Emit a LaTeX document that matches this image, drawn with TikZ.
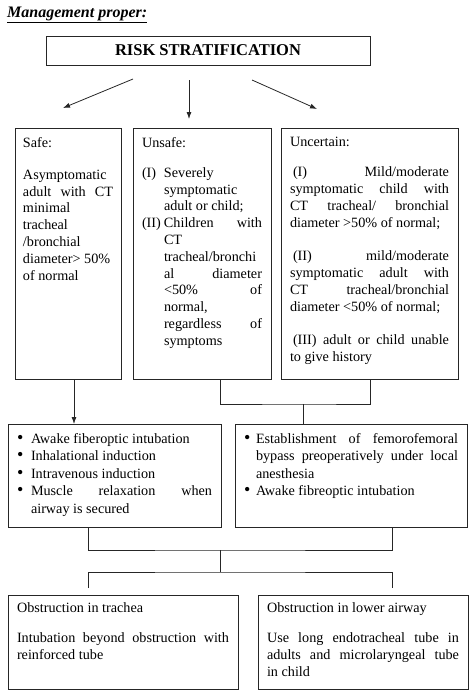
\documentclass[tikz,border=0pt]{standalone}
\usepackage{fontspec}
\setmainfont{Liberation Serif}
\usetikzlibrary{arrows.meta,positioning,calc}
\newcommand{\boxtext}[3]{\parbox[t][#2][t]{#1}{#3}}
\newcommand{\hangitem}[2]{\par\hangindent=#1\hangafter=1\noindent\makebox[#1][l]{#2}\ignorespaces}
\newcommand{\bul}{{\fontsize{18}{17}\selectfont\textbullet}}

\begin{document}
\begin{tikzpicture}[
  x=1pt, y=-1pt,
  every node/.style={font=\fontsize{14.2}{16.8}\selectfont},
  cellbox/.style={draw=black!85,line width=1pt,anchor=north west,
                  inner xsep=9pt,inner ysep=9pt,outer sep=0pt},
  link/.style={draw=black!85,line width=0.8pt},
  arr/.style={link,-{Latex[length=7pt,width=5pt]}},
]
  \useasboundingbox (0,0) rectangle (474,696);
  % Title
  \node[anchor=base west,inner sep=0pt,font=\fontsize{16}{19}\selectfont\bfseries\itshape]
    (title) at (7,17.5) {\underline{Management proper:}};
  % Risk stratification
  \node[draw=black!85,line width=1pt,minimum width=324pt,minimum height=29pt,inner sep=0pt,
        font=\fontsize{16.5}{19}\selectfont\bfseries] (risk) at (208,50.5) {RISK STRATIFICATION};
  \coordinate (ra1) at (133,79);  \coordinate (rb1) at (63,108);
  \coordinate (ra2) at (189,80);  \coordinate (rb2) at (189,119);
  \coordinate (ra3) at (252,80);  \coordinate (rb3) at (317,109);
  \draw[arr] (ra1) -- (rb1);
  \draw[arr] (ra2) -- (rb2);
  \draw[arr] (ra3) -- (rb3);
  % Box 1
  \node[cellbox,inner xsep=8pt] (safe) at (15,128) {\boxtext{90pt}{233pt}{%
    Safe:\par\vspace{15.5pt}%
    Asymptomatic\\ adult with CT\linebreak minimal\\ tracheal\\ /bronchial\\
    diameter> 50\%\\ of normal}};
  % Box 2
  \node[cellbox] (unsafe) at (133,128) {\boxtext{120pt}{233pt}{%
    Unsafe:\par\vspace{13.5pt}%
    \hangitem{22pt}{(I)}Severely\\ symptomatic\\ adult or child;%
    \hangitem{22pt}{(II)}Children with\linebreak CT\\ tracheal/bronchi\\
    al diameter\linebreak <50\% of\linebreak normal,\\ regardless of\linebreak symptoms}};
  % Box 3
  \node[cellbox] (uncertain) at (281,128) {\boxtext{159pt}{233pt}{%
    Uncertain:\par\vspace{13.5pt}%
    \hspace*{3pt}(I) Mild/moderate\linebreak symptomatic child with\linebreak
    CT tracheal/ bronchial\linebreak diameter >50\% of normal;\par\vspace{16.8pt}%
    \hspace*{3pt}(II) mild/moderate\linebreak symptomatic adult with\linebreak
    CT tracheal/bronchial\linebreak diameter <50\% of normal;\par\vspace{16.8pt}%
    \hspace*{3pt}(III) adult or child unable\linebreak to give history}};
  % Box 4
  \node[cellbox,font=\fontsize{14.2}{17.5}\selectfont] (treatL) at (8,424) {\boxtext{195pt}{85pt}{%
    \hangitem{14pt}{\bul}Awake fiberoptic intubation
    \hangitem{14pt}{\bul}Inhalational induction
    \hangitem{14pt}{\bul}Intravenous induction
    \hangitem{14pt}{\bul}Muscle relaxation when\linebreak airway is secured}};
  % Box 5
  \node[cellbox,font=\fontsize{14.2}{17.5}\selectfont] (treatR) at (235,424) {\boxtext{214pt}{85pt}{%
    \hangitem{12pt}{\bul}Establishment of femorofemoral\linebreak
    bypass preoperatively under local\linebreak anesthesia
    \hangitem{12pt}{\bul}Awake fibreoptic intubation}};
  % Box 6
  \node[cellbox,inner ysep=8pt,font=\fontsize{14.2}{17}\selectfont] (botL) at (8,595) {\boxtext{212pt}{78pt}{%
    Obstruction in trachea\par\vspace{13pt}%
    Intubation beyond obstruction with\linebreak reinforced tube}};
  % Box 7
  \node[cellbox,inner ysep=8pt,font=\fontsize{14.2}{17}\selectfont] (botR) at (258,595) {\boxtext{192pt}{78pt}{%
    Obstruction in lower airway\par\vspace{13pt}%
    Use long endotracheal tube in\linebreak adults and microlaryngeal tube\linebreak in child}};
  % Connectors
  \coordinate (c1) at (74,0);
  \coordinate (c2) at (220,0);
  \coordinate (c3) at (370,0);
  \coordinate (c5) at (88,0);
  \coordinate (c6) at (392,0);
  \coordinate (m1) at (303,404);
  \coordinate (m2) at (220,550);
  \coordinate (m3) at (220,572);
  \coordinate (e1) at (88,588);
  \coordinate (e2) at (392,588);
  \draw[arr] (safe.south -| c1) -- (treatL.north -| c1);
  \draw[link] (unsafe.south -| c2) |- (m1) -| (uncertain.south -| c3);
  \draw[link] (m1) -- (treatR.north -| m1);
  \draw[link] (treatL.south -| c5) |- (m2) -| (treatR.south -| c6);
  \draw[link] (m2) -- (m3);
  \draw[link] (e1) |- (m3) -| (e2);
\end{tikzpicture}
\end{document}
